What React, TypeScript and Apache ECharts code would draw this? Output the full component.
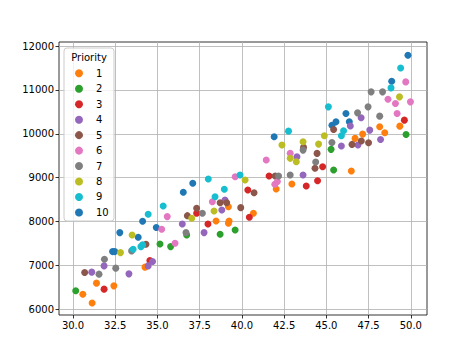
import React, { useEffect, useRef } from "react";
import * as echarts from "echarts";

// Priority categories (legend order)
const priorities: string[] = ["1", "2", "3", "4", "5", "6", "7", "8", "9", "10"];
const colors: Record<string, string> = {
  "10": "#1f77b4", "1": "#ff7f0e", "2": "#2ca02c", "3": "#d62728", "4": "#9467bd",
  "5": "#8c564b", "6": "#e377c2", "7": "#7f7f7f", "8": "#bcbd22", "9": "#17becf",
};

// [x, y] points per priority
const p1: [number, number][] = [
  [30.58, 6340], [31.13, 6137], [31.39, 6592], [32.42, 6530], [34.26, 6957], [39.2, 8337],
  [38.47, 8011], [39.24, 8011], [39.2, 7959], [40.68, 8187], [42.03, 8740], [42.96, 8854],
  [46.48, 9150], [46.7, 9895], [47.15, 9993], [48.16, 10160], [48.46, 10023], [49.35, 10175],
];
const p2: [number, number][] = [
  [30.16, 6417], [35.15, 7487], [35.78, 7426], [36.73, 7692], [38.71, 7708], [39.6, 7806],
  [45.43, 9173], [45.28, 9645], [49.72, 9986],
];
const p3: [number, number][] = [
  [31.84, 6455], [34.55, 7107], [37.32, 8187], [37.99, 7943], [40.35, 8717], [40.44, 8096],
  [41.61, 9036], [43.81, 8809], [44.48, 8929], [44.78, 9248], [49.62, 10312],
];
const p4: [number, number][] = [
  [31.11, 6843], [31.84, 6986], [33.31, 6804], [34.71, 7085], [34.45, 6986], [36.47, 7943],
  [37.76, 7745], [38.81, 8262], [39.0, 8490], [43.26, 9476], [43.62, 9059], [45.89, 9720],
  [46.42, 10180], [46.87, 9743], [47.06, 10365], [47.57, 10084], [48.21, 9872],
];
const p5: [number, number][] = [
  [30.69, 6834], [34.32, 7480], [36.77, 8132], [37.32, 8300], [38.71, 8428], [39.1, 8428],
  [39.93, 8315], [40.72, 8656], [41.97, 9036], [43.65, 9690], [44.45, 9553], [44.33, 9212],
  [45.43, 10100], [46.52, 9758], [47.07, 9834], [47.5, 9795],
];
const p6: [number, number][] = [
  [35.25, 7822], [35.58, 8110], [36.04, 7503], [38.25, 8451], [39.6, 9021], [41.44, 9401],
  [41.95, 8850], [42.1, 8910], [42.86, 9554], [48.65, 10790], [49.09, 10692], [49.98, 10729],
  [49.19, 10465], [49.7, 11185],
];
const p7: [number, number][] = [
  [31.54, 6797], [31.86, 7139], [32.53, 6934], [33.47, 7328], [36.69, 7745], [37.66, 8187],
  [42.17, 9036], [42.86, 9059], [43.62, 9628], [44.37, 9355], [45.33, 9803], [46.85, 10478],
  [47.47, 10615], [47.65, 10957], [48.33, 10957], [48.16, 10403],
];
const p8: [number, number][] = [
  [32.81, 7289], [33.5, 7692], [37.03, 8073], [38.35, 8239], [40.19, 8945], [42.37, 9743],
  [42.86, 9440], [43.22, 9362], [43.62, 9818], [44.54, 9765], [44.88, 9955], [49.33, 10843],
];
const p9: [number, number][] = [
  [33.56, 7367], [34.02, 7426], [34.12, 7465], [34.45, 8164], [35.34, 8353], [38.01, 8968],
  [38.41, 8565], [38.96, 8733], [39.89, 9059], [42.76, 10061], [45.12, 10615], [45.89, 9955],
  [46.02, 10068], [48.83, 11048], [49.4, 11503],
];
const p10: [number, number][] = [
  [32.34, 7312], [32.47, 7312], [32.77, 7745], [33.86, 7640], [34.12, 8005], [34.93, 7860],
  [36.53, 8665], [37.09, 8870], [41.91, 9932], [45.33, 10197], [45.57, 10273], [46.16, 10465],
  [46.36, 10273], [48.87, 11200], [49.83, 11793],
];

// Drawing order (first drawn at bottom)
const drawOrder: string[] = ["10", "1", "2", "3", "4", "5", "6", "7", "8", "9"];
const pointsByPriority: Record<string, [number, number][]> = {
  "1": p1, "2": p2, "3": p3, "4": p4, "5": p5, "6": p6, "7": p7, "8": p8, "9": p9, "10": p10,
};

const xTicks: number[] = [30, 32.5, 35, 37.5, 40, 42.5, 45, 47.5, 50];
const yTicks: number[] = [6000, 7000, 8000, 9000, 10000, 11000, 12000];
const X_MIN = 29.17;
const X_MAX = 50.96;
const Y_MIN = 5865;
const Y_MAX = 12095;

const FONT = "DejaVu Sans";

export default function App() {
  const ref = useRef<HTMLDivElement>(null);
  useEffect(() => {
    if (!ref.current) return;
    const chart = echarts.init(ref.current, undefined, { renderer: "svg" });
    const gridLeft = 59, gridTop = 42, gridRight = 47, gridBottom = 39;
    const plotW = 474 - gridLeft - gridRight;
    const plotH = 354 - gridTop - gridBottom;
    const gridColor = "#b0b0b0";

    chart.setOption({
      animation: false,
      backgroundColor: "#ffffff",
      grid: {
        left: gridLeft, top: gridTop, right: gridRight, bottom: gridBottom,
        show: true, borderColor: "#000", borderWidth: 0.8, backgroundColor: "transparent",
      },
      xAxis: [
        {
          type: "value", min: X_MIN, max: X_MAX, position: "bottom",
          axisLine: { show: false }, splitLine: { show: false },
          axisTick: { show: true, length: 3.5, customValues: xTicks, lineStyle: { color: "#000", width: 0.8 } },
          axisLabel: {
            customValues: xTicks, formatter: (v: number) => v.toFixed(1), margin: 5,
            color: "#000", fontSize: 10, fontFamily: FONT,
          },
        },
        {
          type: "value", min: X_MIN, max: X_MAX, position: "top",
          axisLine: { show: false }, splitLine: { show: false }, axisLabel: { show: false },
          axisTick: { show: true, inside: true, length: plotH, customValues: xTicks, lineStyle: { color: gridColor, width: 0.8 } },
        },
      ],
      yAxis: [
        {
          type: "value", min: Y_MIN, max: Y_MAX, position: "left",
          axisLine: { show: false }, splitLine: { show: false },
          axisTick: { show: true, length: 3.5, customValues: yTicks, lineStyle: { color: "#000", width: 0.8 } },
          axisLabel: {
            customValues: yTicks, formatter: (v: number) => String(Math.round(v)), margin: 5,
            color: "#000", fontSize: 10, fontFamily: FONT,
          },
        },
        {
          type: "value", min: Y_MIN, max: Y_MAX, position: "right",
          axisLine: { show: false }, splitLine: { show: false }, axisLabel: { show: false },
          axisTick: { show: true, inside: true, length: plotW, customValues: yTicks, lineStyle: { color: gridColor, width: 0.8 } },
        },
      ],
      legend: {
        data: priorities,
        orient: "vertical",
        left: 75,
        top: 68.3,
        padding: 0,
        itemWidth: 24,
        itemHeight: 8,
        itemGap: 5.46,
        icon: "circle",
        z: 6,
        textStyle: { fontSize: 10, lineHeight: 8, color: "#000", fontFamily: FONT, padding: [0, 0, 0, 0] },
      },
      graphic: [
        {
          type: "rect", z: 5,
          shape: { x: 64, y: 48, width: 50, height: 173, r: 3 },
          style: { fill: "rgba(255,255,255,0.8)", stroke: "#cccccc", lineWidth: 1 },
        },
        {
          type: "text", z: 6, x: 89, y: 57,
          style: { text: "Priority", fontSize: 10, fontFamily: FONT, fill: "#000", align: "center", verticalAlign: "middle" },
        },
      ],
      series: drawOrder.map((p) => ({
        name: p,
        type: "scatter",
        xAxisIndex: 0,
        yAxisIndex: 0,
        symbol: "circle",
        symbolSize: 7,
        itemStyle: { color: colors[p], opacity: 1 },
        data: pointsByPriority[p],
      })),
    });
    return () => chart.dispose();
  }, []);
  return <div ref={ref} style={{ position: "fixed", left: 0, top: 0, width: 474, height: 354 }} />;
}
